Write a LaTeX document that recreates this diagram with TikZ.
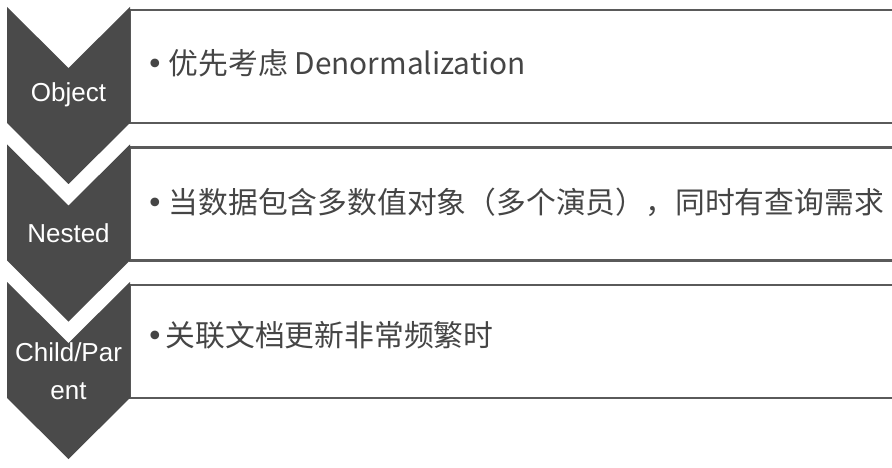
\documentclass[tikz,border=0pt]{standalone}
\usepackage{fontspec}
\setmainfont{Liberation Sans}
\newfontfamily\cjk{Noto Sans CJK SC}
\newfontfamily\sym{DejaVu Sans}
\usetikzlibrary{positioning}
\definecolor{chevgray}{HTML}{4A4A4A}
\definecolor{linegray}{HTML}{5A5A5A}
\definecolor{txtgray}{HTML}{454545}
\newcommand{\dotmark}{{\sym •}}

\begin{document}
\begin{tikzpicture}[x=1pt,y=-1pt,
  chev/.style={fill=chevgray,draw=none},
  frame/.style={draw=linegray,line width=2.5pt},
  tag/.style={text=white,font=\fontsize{26}{38}\selectfont,align=center,inner sep=0pt},
  item/.style={text=txtgray,font=\cjk\fontsize{29.8}{34}\selectfont,anchor=west,inner sep=0pt}]
  \useasboundingbox (0,0) rectangle (892,468);
  \clip (0,0) rectangle (892,468);

  % boxes and chevrons
  \foreach \y in {7,144.5,282}{
    \draw[frame] (130,\y+3) rectangle (900,\y+116);
    \path[chev] (7,\y) -- (68.5,\y+61) -- (130,\y) -- (130,\y+116)
      -- (68.5,\y+177) -- (7,\y+116) -- cycle;
  }

  % labels
  \node[tag] (obj)  at (68.5,95)  {Object};
  \node[tag] (nest) at (68.5,233) {Nested};
  \node[tag] (cp)   at (68.5,371) {Child/Par\\ent};

  \node[item] (t1) at (146,63)  {\dotmark\kern5pt 优先考虑 Denormalization};
  \node[item] (t2) at (146,202) {\dotmark\kern5pt 当数据包含多数值对象（多个演员），同时有查询需求};
  \node[item] (t3) at (146,335) {\dotmark\kern2pt 关联文档更新非常频繁时};
\end{tikzpicture}
\end{document}
